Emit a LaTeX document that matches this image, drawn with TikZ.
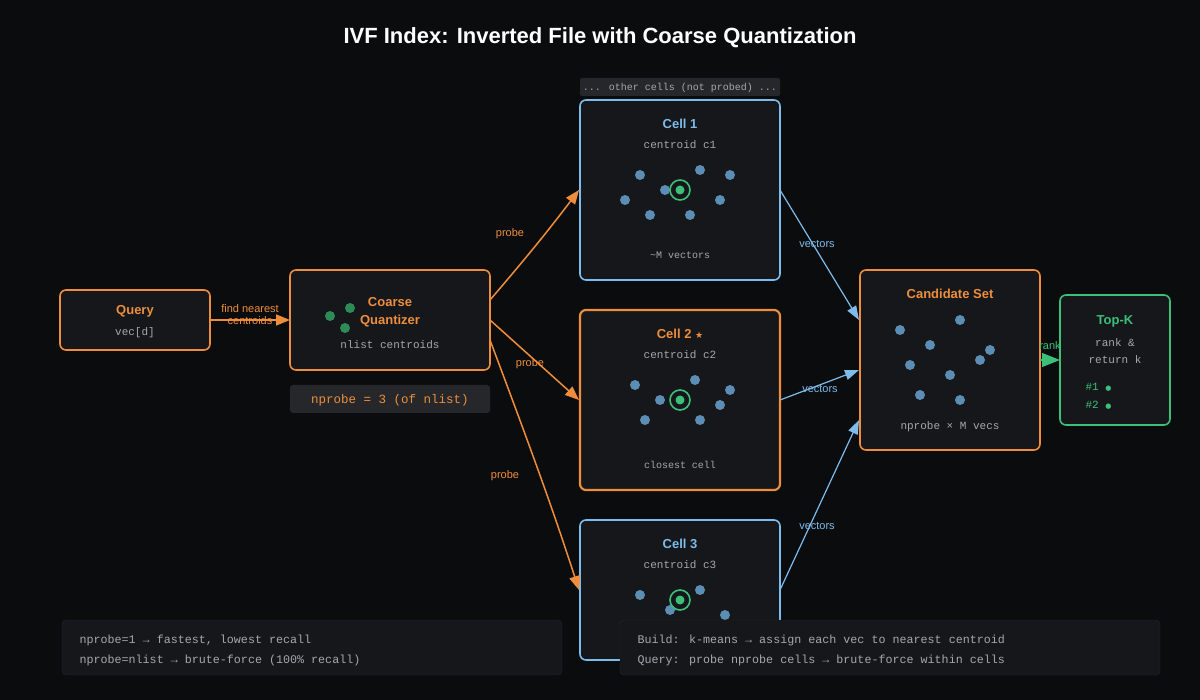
\documentclass[tikz,border=0pt]{standalone}
\usepackage{fontspec}
\setmainfont{Liberation Sans}
\newfontfamily\monof{Liberation Mono}
\usetikzlibrary{arrows.meta}
\definecolor{bg}{HTML}{0B0C0E}
\definecolor{boxf}{HTML}{15171B}
\definecolor{orng}{HTML}{EE8E3C}
\definecolor{blu}{HTML}{7DBCEC}
\definecolor{grn}{HTML}{3CBF78}
\definecolor{dgrn}{HTML}{2E8B57}
\definecolor{dotb}{HTML}{5B8DB5}
\definecolor{txtg}{HTML}{A4A8AE}
\definecolor{pill}{HTML}{25272B}
\begin{document}
\begin{tikzpicture}[x=1pt,y=-1pt,
  box/.style={rounded corners=6pt,line width=1.6pt,fill=boxf},
  ttl/.style={font=\bfseries\fontsize{13}{15}\selectfont},
  mono/.style={font=\monof\fontsize{11}{13}\selectfont,text=txtg},
  lbl/.style={font=\fontsize{11}{12}\selectfont,align=center},
  oarr/.style={draw=orng,line width=1.5pt,-{Triangle[length=14pt,width=11pt]}},
  barr/.style={draw=blu,line width=1.2pt,-{Triangle[length=14pt,width=10pt]}},
]
\fill[bg] (0,0) rectangle (1200,700);
\useasboundingbox (0,0) rectangle (1200,700);
\node[text=white,font=\bfseries\fontsize{22}{26}\selectfont] (title) at (600,38) {IVF Index: Inverted File with Coarse Quantization};

% Query
\draw[box,draw=orng] (60,290) rectangle (210,350);
\node[ttl,text=orng] (qt) at (135,311) {Query};
\node[mono] (qv) at (135,333) {vec[d]};
\coordinate (qout) at (210,320);

% Coarse quantizer
\draw[box,draw=orng] (290,270) rectangle (490,370);
\fill[dgrn] (330,316) circle (5) (350,308) circle (5) (345,328) circle (5);
\node[ttl,text=orng,align=center,font=\bfseries\fontsize{13}{18}\selectfont] (cq) at (390,312) {Coarse\\Quantizer};
\node[mono] (cqs) at (390,345) {nlist centroids};
\coordinate (cqin) at (290,320);
\coordinate (cqo1) at (490,300);
\coordinate (cqo2) at (490,320);
\coordinate (cqo3) at (490,340);
\fill[pill,rounded corners=3pt] (290,385) rectangle (490,413);
\node[mono,text=orng,font=\monof\fontsize{12.5}{14}\selectfont] (np) at (390,400) {nprobe = 3 (of nlist)};

% other cells label
\fill[pill,rounded corners=2pt] (580,78) rectangle (780,96);
\node[mono,font=\monof\fontsize{10}{11}\selectfont] (oth) at (680,88) {... other cells (not probed) ...};

% Cell 1
\draw[box,draw=blu] (580,100) rectangle (780,280);
\node[ttl,text=blu] (c1t) at (680,124) {Cell 1};
\node[mono] (c1s) at (680,145) {centroid c1};
\foreach \p in {(640,175),(700,170),(730,175),(625,200),(665,190),(720,200),(650,215),(690,215)} \fill[dotb] \p circle (5);
\draw[grn,line width=1.6pt] (680,190) circle (10); \fill[grn] (680,190) circle (4.5);
\node[mono,font=\monof\fontsize{10}{11}\selectfont] (c1m) at (680,255) {\textasciitilde M vectors};
\coordinate (c1in) at (579,190); \coordinate (c1out) at (780,190);

% Cell 2
\draw[box,draw=orng,line width=2.2pt] (580,310) rectangle (780,490);
\node[ttl,text=orng] (c2t) at (680,334) {Cell 2 {\fontspec{DejaVu Sans}\small★}};
\node[mono] (c2s) at (680,355) {centroid c2};
\foreach \p in {(635,385),(695,380),(730,390),(660,400),(720,405),(645,420),(700,420)} \fill[dotb] \p circle (5);
\draw[grn,line width=1.6pt] (680,400) circle (10); \fill[grn] (680,400) circle (4.5);
\node[mono,font=\monof\fontsize{10}{11}\selectfont] (c2m) at (680,465) {closest cell};
\coordinate (c2in) at (579,400); \coordinate (c2out) at (780,400);

% Cell 3
\draw[box,draw=blu] (580,520) rectangle (780,660);
\node[ttl,text=blu] (c3t) at (680,544) {Cell 3};
\node[mono] (c3s) at (680,565) {centroid c3};
\foreach \p in {(640,595),(700,590),(670,610),(725,615)} \fill[dotb] \p circle (5);
\draw[grn,line width=1.6pt] (680,600) circle (10); \fill[grn] (680,600) circle (4.5);
\coordinate (c3in) at (579,590); \coordinate (c3out) at (780,590);

% Candidate set
\draw[box,draw=orng] (860,270) rectangle (1040,450);
\node[ttl,text=orng] (cst) at (950,294) {Candidate Set};
\foreach \p in {(900,330),(960,320),(930,345),(990,350),(910,365),(980,360),(950,375),(920,395),(960,400)} \fill[dotb] \p circle (5);
\node[mono] (css) at (950,427) {nprobe × M vecs};
\coordinate (csi1) at (859,320); \coordinate (csi2) at (859,370); \coordinate (csi3) at (859,420);
\coordinate (csout) at (1040,360);

% Top-K
\draw[box,draw=grn] (1060,295) rectangle (1170,425);
\node[ttl,text=grn] (tk) at (1115,321) {Top-K};
\node[mono,align=center,font=\monof\fontsize{11}{17}\selectfont] (tks) at (1115,351) {rank \&\\return k};
\node[mono,text=grn,anchor=west,font=\monof\fontsize{11}{11}\selectfont] (r1) at (1082,387) {\#1 {\fontspec{DejaVu Sans}\scriptsize●}};
\node[mono,text=grn,anchor=west,font=\monof\fontsize{11}{11}\selectfont] (r2) at (1082,405) {\#2 {\fontspec{DejaVu Sans}\scriptsize●}};
\coordinate (tkin) at (1060,360);

% arrows
\draw[oarr] (qout) -- (cqin);
\node[lbl,text=orng] (l0) at (250,315) {find nearest\\centroids};
\draw[oarr] (cqo1) .. controls (520,265) and (545,235) .. (c1in);
\draw[oarr] (cqo2) -- (c2in);
\draw[oarr] (cqo3) .. controls (520,420) and (550,500) .. (c3in);
\node[lbl,text=orng] (l1) at (510,234) {probe};
\node[lbl,text=orng] (l2) at (530,364) {probe};
\node[lbl,text=orng] (l3) at (505,476) {probe};
\draw[barr] (c1out) -- (csi1);
\draw[barr] (c2out) -- (csi2);
\draw[barr] (c3out) -- (csi3);
\node[lbl,text=blu] (v1) at (817,244) {vectors};
\node[lbl,text=blu] (v2) at (820,389) {vectors};
\node[lbl,text=blu] (v3) at (817,526) {vectors};
\draw[draw=grn,line width=1.4pt,-{Triangle[length=18pt,width=14pt]}] (csout) -- (tkin);
\node[lbl,text=grn] (rk) at (1050,346) {rank};

% bottom notes
\fill[boxf,draw=pill,rounded corners=4pt] (62,620) rectangle (562,675);
\node[mono,anchor=west,font=\monof\fontsize{11.7}{13}\selectfont] (n1) at (76,640) {nprobe=1 → fastest, lowest recall};
\node[mono,anchor=west,font=\monof\fontsize{11.7}{13}\selectfont] (n2) at (76,660) {nprobe=nlist → brute-force (100\% recall)};
\fill[boxf,draw=pill,rounded corners=4pt] (620,620) rectangle (1160,675);
\node[mono,anchor=west,font=\monof\fontsize{11.7}{13}\selectfont] (n3) at (634,640) {Build: k-means → assign each vec to nearest centroid};
\node[mono,anchor=west,font=\monof\fontsize{11.7}{13}\selectfont] (n4) at (634,660) {Query: probe nprobe cells → brute-force within cells};
\end{tikzpicture}
\end{document}
